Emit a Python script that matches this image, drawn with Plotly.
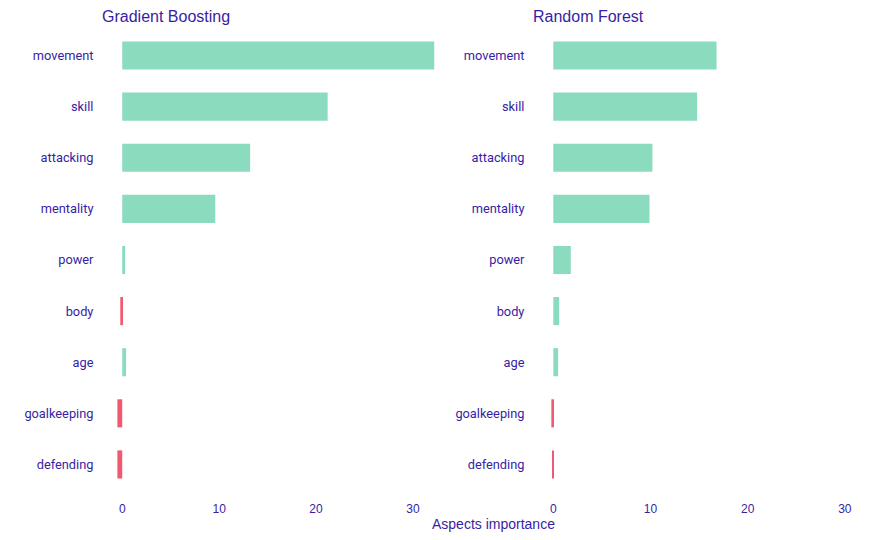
import plotly.graph_objects as go
from plotly.subplots import make_subplots

variables = ["movement", "skill", "attacking", "mentality", "power",
             "body", "age", "goalkeeping", "defending"]
gb_values = [32.2, 21.2, 13.2, 9.6, 0.3, -0.2, 0.4, -0.5, -0.5]
rf_values = [16.8, 14.8, 10.2, 9.9, 1.8, 0.6, 0.5, -0.2, -0.05]
model_names = ["Gradient Boosting", "Random Forest"]
x_ticks = [0, 10, 20, 30]

POS = "#8bdcbe"
NEG = "#f05a71"
TXT = "#371ea3"

fig = make_subplots(rows=1, cols=2, horizontal_spacing=0.1)

for i, vals in enumerate([gb_values, rf_values]):
    fig.add_trace(go.Bar(
        x=vals, y=variables, orientation="h",
        marker=dict(color=[POS if v >= 0 else NEG for v in vals], line=dict(width=0)),
        showlegend=False, hoverinfo="x+y",
    ), row=1, col=i + 1)

OFF = 8  # page body margin
L, R = 98 - OFF, 890 - (874 - OFF)
W = 890 - L - R
d1 = [0, (442 - 98) / W]
d2 = [(529 - 98) / W, 1]

axis_common = dict(range=[-2.5, 33], tickvals=x_ticks, showgrid=False, zeroline=False,
                   showline=False, ticks="outside", ticklen=8, tickcolor="rgba(0,0,0,0)",
                   tickfont=dict(family="Liberation Sans, Arial", size=12, color=TXT),
                   fixedrange=True)
yaxis_common = dict(categoryorder="array", categoryarray=variables[::-1], showgrid=False,
                    zeroline=False, showline=False, ticks="outside", ticklen=1,
                    tickcolor="rgba(0,0,0,0)",
                    tickfont=dict(family="Roboto", size=12.8, color=TXT), fixedrange=True)

fig.update_layout(
    width=890, height=540,
    margin=dict(l=L, r=R, t=22, b=58),
    plot_bgcolor="white", paper_bgcolor="white",
    bargap=0.45,
    xaxis=dict(domain=d1, **axis_common),
    xaxis2=dict(domain=d2, **axis_common),
    yaxis=dict(**yaxis_common),
    yaxis2=dict(**yaxis_common),
    font=dict(family="Liberation Sans, Arial", color=TXT),
)

for name, dom in zip(model_names, [d1, d2]):
    fig.add_annotation(text=name, x=dom[0] + 2 / W, y=1, xref="paper", yref="paper",
                       xanchor="left", yanchor="bottom", yshift=3, showarrow=False,
                       font=dict(family="Liberation Sans, Arial", size=16, color=TXT))
fig.add_annotation(text="Aspects importance", x=(493 - 98) / W, y=0, xref="paper", yref="paper",
                   xanchor="center", yanchor="top", yshift=-24, showarrow=False,
                   font=dict(family="Liberation Sans, Arial", size=14, color=TXT))

fig.write_html("out.html")
